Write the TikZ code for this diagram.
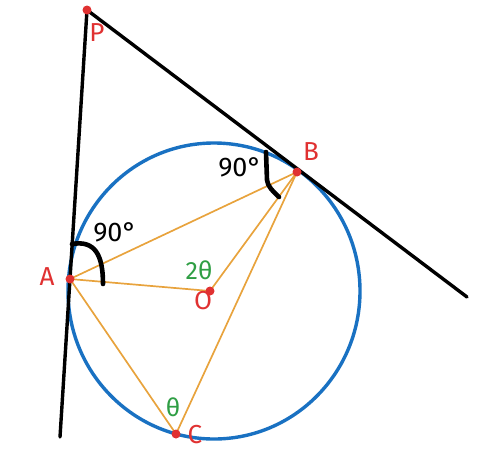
\documentclass[tikz,border=0pt]{standalone}
\usepackage{fontspec}
\setmainfont{Fira Sans}
\definecolor{cblue}{HTML}{1971C2}
\definecolor{corange}{HTML}{E8A33D}
\definecolor{cred}{HTML}{E03131}
\definecolor{cgreen}{HTML}{2F9E44}
\begin{document}
\begin{tikzpicture}[x=1pt,y=-1pt,
  tline/.style={black,line width=3.4pt,line cap=round},
  oline/.style={corange,line width=1.7pt},
  rmark/.style={black,line width=4.6pt,line cap=round,line join=round},
  dot/.style={circle,fill=cred,inner sep=0pt,minimum size=9pt},
  lbl/.style={cred,font=\fontsize{26}{26}\selectfont},
  ang/.style={font=\fontsize{27}{27}\selectfont},
  gl/.style={cgreen,font=\fontsize{25}{25}\selectfont}]
\useasboundingbox (0,0) rectangle (490,456);
\coordinate (P) at (87,10);
\coordinate (A) at (70,279);
\coordinate (B) at (297,172);
\coordinate (O) at (210,291);
\coordinate (C) at (176,434);
\coordinate (Aend) at (60,437);
\coordinate (Bend) at (467,297);
\coordinate (ctr) at (214,291);
% circle
\draw[cblue,line width=3.4pt] (ctr) ellipse [x radius=146, y radius=148];
% orange chords
\draw[oline] (A) -- (B);
\draw[oline] (A) -- (O) -- (B);
\draw[oline] (A) -- (C) -- (B);
% tangents
\draw[tline] (P) -- (Aend);
\draw[tline] (P) -- (Bend);
% right-angle marks
\draw[rmark] (72,244) .. controls (95,240) and (103,255) .. (103,284);
\draw[rmark] (266,152) -- (267,180) .. controls (268,187) and (272,190) .. (279,197);
% dots
\node[dot] (nP) at (P) {};
\node[dot] (nA) at (A) {};
\node[dot] (nB) at (B) {};
\node[dot] (nO) at (O) {};
\node[dot] (nC) at (C) {};
% labels
\node[lbl] (lP) at (97,33) {P};
\node[lbl] (lB) at (311,152) {B};
\node[lbl] (lA) at (47,277) {A};
\node[lbl] (lO) at (203,301) {O};
\node[lbl] (lC) at (195,435) {C};
\node[ang] (a1) at (115,232) {90°};
\node[ang] (a2) at (240,167) {90°};
\node[gl] (t2) at (199,270) {2θ};
\node[gl] (t1) at (173,407) {θ};
\end{tikzpicture}
\end{document}
